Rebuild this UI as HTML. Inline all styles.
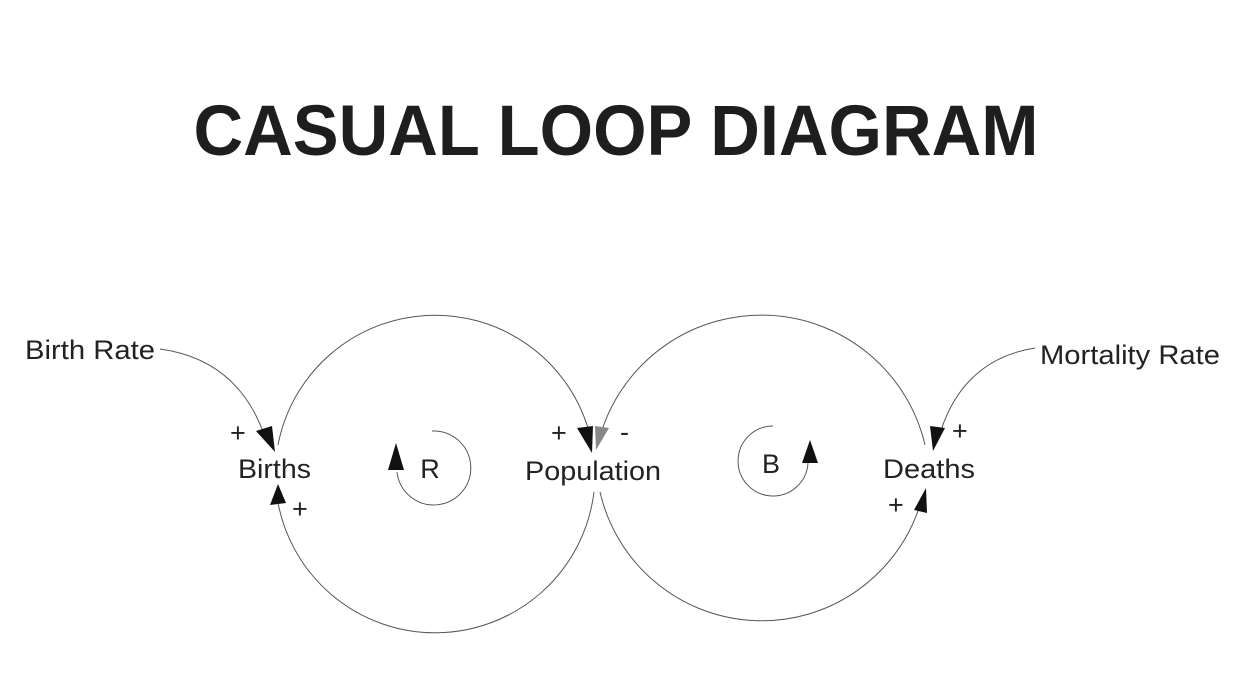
<!DOCTYPE html>
<html><head><meta charset="utf-8"><style>
html,body{margin:0;padding:0;background:#fff;}
svg{display:block;}
</style></head><body>
<svg width="1242" height="698" viewBox="0 0 1242 698" xmlns="http://www.w3.org/2000/svg">
<rect width="1242" height="698" fill="#fff"/>
<text x="616" y="155" text-anchor="middle" font-family="Liberation Sans, sans-serif" font-weight="bold" font-size="71" fill="#1e1e1e" textLength="845" lengthAdjust="spacingAndGlyphs">CASUAL LOOP DIAGRAM</text>
<g fill="none" stroke="#555" stroke-width="1">
<path d="M 278 445 A 160 160 0 0 1 588 428"/>
<path d="M 594 492 A 160 160 0 0 1 277 497"/>
<path d="M 925 445 A 168 168 0 0 0 602 430"/>
<path d="M 600 492 A 166 166 0 0 0 920 505"/>
<path d="M 160 349 Q 240 360 266 440"/>
<path d="M 1035 348 Q 960 360 938 440"/>
<path d="M 432 431 A 37 37 0 1 1 397 472"/>
<path d="M 773 426 A 35 35 0 1 0 808 463"/>
</g>
<g fill="#111">
<polygon points="256,431 272,426 275,452"/>
<polygon points="577,428 593,426 592,453"/>
<polygon points="270,505 286,503 278,484"/>
<polygon points="930,426 945,428 933,451"/>
<polygon points="914,510 927,513 926,488"/>
<polygon points="388,470 404,470 396,443"/>
<polygon points="802,463 818,463 810,440"/>
</g>
<polygon points="595,426 609,428 596,450" fill="#888"/>
<g font-family="Liberation Sans, sans-serif" font-size="27" fill="#222">
<text x="25" y="359" textLength="130" lengthAdjust="spacingAndGlyphs">Birth Rate</text>
<text x="1040" y="364" textLength="180" lengthAdjust="spacingAndGlyphs">Mortality Rate</text>
<text x="238" y="478" textLength="73" lengthAdjust="spacingAndGlyphs">Births</text>
<text x="525" y="480" textLength="136" lengthAdjust="spacingAndGlyphs">Population</text>
<text x="883" y="478" textLength="92" lengthAdjust="spacingAndGlyphs">Deaths</text>
<text x="430" y="478" text-anchor="middle">R</text>
<text x="771" y="473" text-anchor="middle">B</text>
<text x="230" y="442">+</text>
<text x="292" y="518">+</text>
<text x="551" y="442">+</text>
<text x="620" y="441">-</text>
<text x="952" y="440">+</text>
<text x="888" y="514">+</text>
</g>
</svg>
</body></html>
